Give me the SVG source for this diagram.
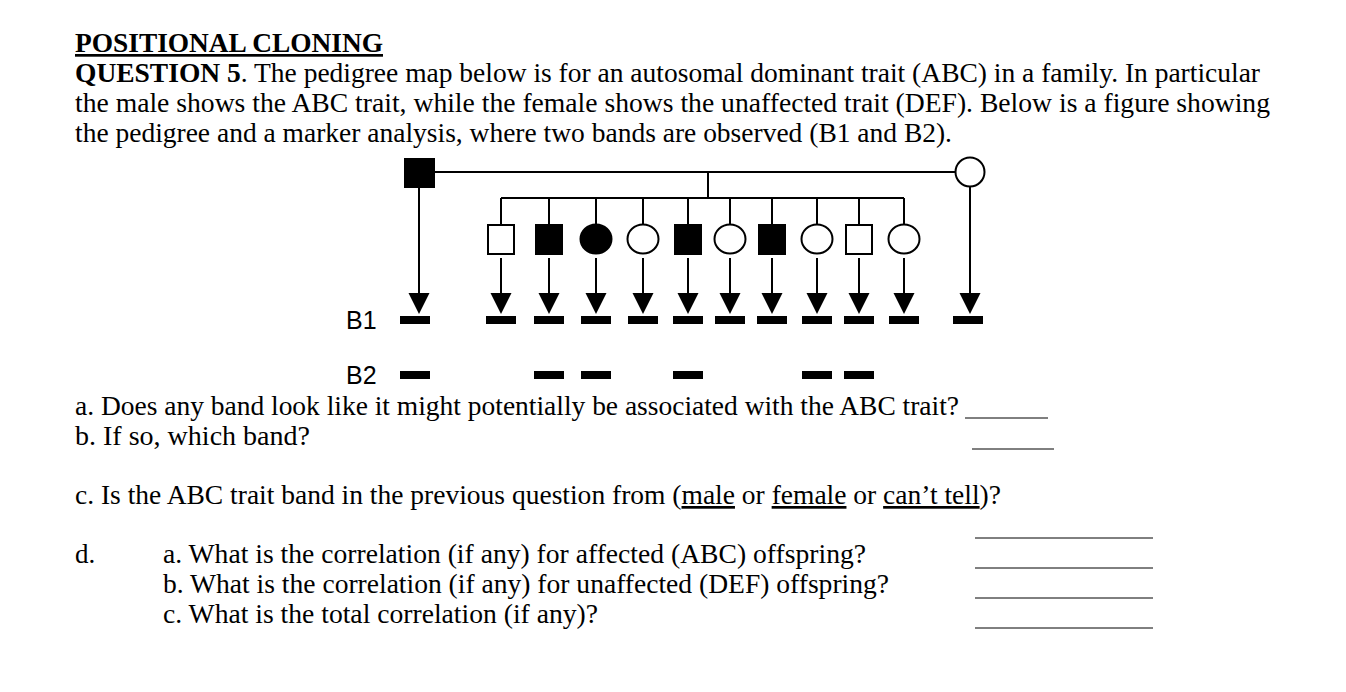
<svg xmlns="http://www.w3.org/2000/svg" width="1346" height="692" viewBox="0 0 1346 692">
<style>
.t{font-family:"Liberation Serif","Times New Roman",serif;font-size:27px;fill:#000}
.b{font-weight:bold}
.s{font-family:"Liberation Sans",Arial,sans-serif;font-size:25px;fill:#000}
.ln{stroke:#000;stroke-width:2;fill:none}
.bl{stroke:#000;stroke-width:1}
.band{fill:#000}
.open{fill:#fff;stroke:#000;stroke-width:2}
.fill{fill:#000;stroke:#000;stroke-width:2}
</style>
<rect width="1346" height="692" fill="#fff"/>
<g id="text">
<text class="t b" x="75" y="52" textLength="308" lengthAdjust="spacingAndGlyphs" text-decoration="underline">POSITIONAL CLONING</text>
<text class="t" x="75" y="82" textLength="1185" lengthAdjust="spacingAndGlyphs"><tspan class="b">QUESTION 5</tspan>. The pedigree map below is for an autosomal dominant trait (ABC) in a family. In particular</text>
<text class="t" x="75" y="112" textLength="1195" lengthAdjust="spacingAndGlyphs">the male shows the ABC trait, while the female shows the unaffected trait (DEF).  Below is a figure showing</text>
<text class="t" x="75" y="142" textLength="877" lengthAdjust="spacingAndGlyphs">the pedigree and a marker analysis, where two bands are observed (B1 and B2).</text>
<text class="t" x="75" y="415" textLength="884" lengthAdjust="spacingAndGlyphs">a. Does any band look like it might potentially be associated with the ABC trait?</text>
<text class="t" x="75" y="445" textLength="235" lengthAdjust="spacingAndGlyphs">b.  If so, which band?</text>
<text class="t" x="75" y="504" textLength="926" lengthAdjust="spacingAndGlyphs">c. Is the ABC trait band in the previous question from (<tspan text-decoration="underline">male</tspan> or <tspan text-decoration="underline">female</tspan> or <tspan text-decoration="underline">can’t tell</tspan>)?</text>
<text class="t" x="75" y="563">d.</text>
<text class="t" x="163" y="563" textLength="703" lengthAdjust="spacingAndGlyphs">a. What is the correlation (if any) for affected (ABC) offspring?</text>
<text class="t" x="163" y="593" textLength="726" lengthAdjust="spacingAndGlyphs">b. What is the correlation (if any) for unaffected (DEF) offspring?</text>
<text class="t" x="163" y="623" textLength="435" lengthAdjust="spacingAndGlyphs">c. What is the total correlation (if any)?</text>
<line class="bl" x1="965" y1="418" x2="1048" y2="418"/>
<line class="bl" x1="972" y1="449" x2="1054" y2="449"/>
<line class="bl" x1="975" y1="538" x2="1153" y2="538"/>
<line class="bl" x1="975" y1="568" x2="1153" y2="568"/>
<line class="bl" x1="975" y1="598" x2="1153" y2="598"/>
<line class="bl" x1="975" y1="628" x2="1153" y2="628"/>
<text class="s" x="346" y="329">B1</text>
<text class="s" x="346" y="384">B2</text>
</g>
<g id="connectors">
<line class="ln" x1="434" y1="172" x2="955" y2="172"/>
<line class="ln" x1="708" y1="172" x2="708" y2="198"/>
<line class="ln" x1="501" y1="198" x2="904" y2="198"/>
<g id="ticks">
<line class="ln" x1="501" y1="198" x2="501" y2="224"/><line class="ln" x1="549" y1="198" x2="549" y2="224"/>
<line class="ln" x1="596" y1="198" x2="596" y2="224"/><line class="ln" x1="643" y1="198" x2="643" y2="224"/>
<line class="ln" x1="688" y1="198" x2="688" y2="224"/><line class="ln" x1="730" y1="198" x2="730" y2="224"/>
<line class="ln" x1="772" y1="198" x2="772" y2="224"/><line class="ln" x1="817" y1="198" x2="817" y2="224"/>
<line class="ln" x1="859" y1="198" x2="859" y2="224"/><line class="ln" x1="904" y1="198" x2="904" y2="224"/>
</g>
<g id="arrows">
<line class="ln" x1="419" y1="187" x2="419" y2="294"/>
<line class="ln" x1="970" y1="187" x2="970" y2="294"/>
<line class="ln" x1="501" y1="258" x2="501" y2="294"/><line class="ln" x1="549" y1="258" x2="549" y2="294"/>
<line class="ln" x1="596" y1="258" x2="596" y2="294"/><line class="ln" x1="643" y1="258" x2="643" y2="294"/>
<line class="ln" x1="688" y1="258" x2="688" y2="294"/><line class="ln" x1="730" y1="258" x2="730" y2="294"/>
<line class="ln" x1="772" y1="258" x2="772" y2="294"/><line class="ln" x1="817" y1="258" x2="817" y2="294"/>
<line class="ln" x1="859" y1="258" x2="859" y2="294"/><line class="ln" x1="904" y1="258" x2="904" y2="294"/>
<g fill="#000">
<path d="M408.5,293 h21 L419,314 Z"/><path d="M959.5,293 h21 L970,314 Z"/>
<path d="M490.5,293 h21 L501,314 Z"/><path d="M538.5,293 h21 L549,314 Z"/>
<path d="M585.5,293 h21 L596,314 Z"/><path d="M632.5,293 h21 L643,314 Z"/>
<path d="M677.5,293 h21 L688,314 Z"/><path d="M719.5,293 h21 L730,314 Z"/>
<path d="M761.5,293 h21 L772,314 Z"/><path d="M806.5,293 h21 L817,314 Z"/>
<path d="M848.5,293 h21 L859,314 Z"/><path d="M893.5,293 h21 L904,314 Z"/>
</g>
</g>
</g>
<g id="father"><rect class="fill" x="405" y="159" width="29" height="28"/></g>
<g id="mother"><ellipse class="open" cx="970" cy="172" rx="14.5" ry="14.5"/></g>
<g id="c1"><rect class="open" x="488" y="225" width="26" height="29"/></g>
<g id="c2"><rect class="fill" x="536" y="225" width="26" height="29"/></g>
<g id="c3"><ellipse class="fill" cx="596" cy="239" rx="15.5" ry="14.5"/></g>
<g id="c4"><ellipse class="open" cx="643" cy="239" rx="15.5" ry="14.5"/></g>
<g id="c5"><rect class="fill" x="675" y="225" width="26" height="29"/></g>
<g id="c6"><ellipse class="open" cx="730" cy="239" rx="15.5" ry="14.5"/></g>
<g id="c7"><rect class="fill" x="759" y="225" width="26" height="29"/></g>
<g id="c8"><ellipse class="open" cx="817" cy="239" rx="15.5" ry="14.5"/></g>
<g id="c9"><rect class="open" x="846" y="225" width="26" height="29"/></g>
<g id="c10"><ellipse class="open" cx="904" cy="239" rx="15.5" ry="14.5"/></g>
<g id="bands">
<rect class="band" x="400" y="316" width="30" height="8"/><rect class="band" x="953" y="316" width="30" height="8"/>
<rect class="band" x="486" y="316" width="30" height="8"/><rect class="band" x="534" y="316" width="30" height="8"/>
<rect class="band" x="581" y="316" width="30" height="8"/><rect class="band" x="628" y="316" width="30" height="8"/>
<rect class="band" x="673" y="316" width="30" height="8"/><rect class="band" x="715" y="316" width="30" height="8"/>
<rect class="band" x="757" y="316" width="30" height="8"/><rect class="band" x="802" y="316" width="30" height="8"/>
<rect class="band" x="844" y="316" width="30" height="8"/><rect class="band" x="889" y="316" width="30" height="8"/>
<rect class="band" x="400" y="371" width="30" height="8"/>
<rect class="band" x="534" y="371" width="30" height="8"/><rect class="band" x="581" y="371" width="30" height="8"/>
<rect class="band" x="673" y="371" width="30" height="8"/>
<rect class="band" x="802" y="371" width="30" height="8"/><rect class="band" x="844" y="371" width="30" height="8"/>
</g>
</svg>
